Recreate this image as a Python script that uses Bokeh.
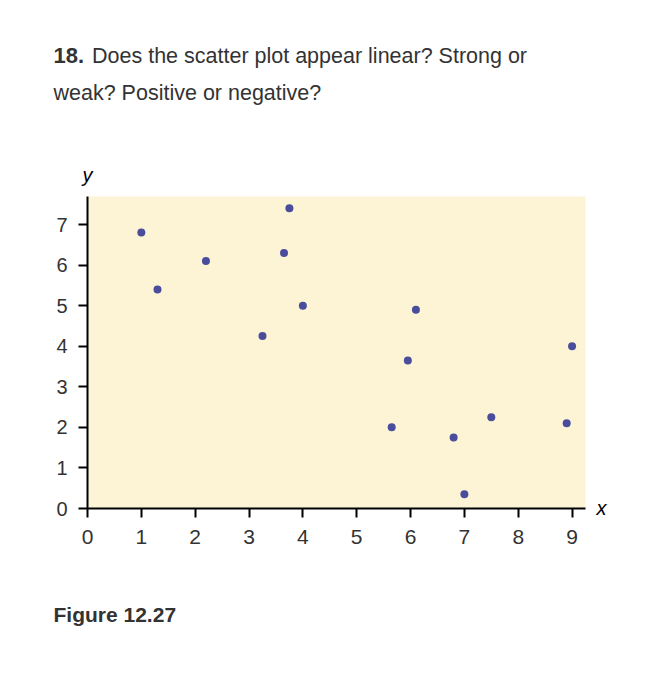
from bokeh.plotting import figure
from bokeh.models import FixedTicker, Label, Range1d
from bokeh.embed import file_html
from bokeh.resources import INLINE

# ---- data ----
x_vals = [1.0, 1.3, 2.2, 3.25, 3.65, 3.75, 4.0, 5.65, 5.95, 6.1, 6.8, 7.0, 7.5, 8.9, 9.0]
y_vals = [6.8, 5.4, 6.1, 4.25, 6.3, 7.4, 5.0, 2.0, 3.65, 4.9, 1.75, 0.35, 2.25, 2.1, 4.0]
x_ticks = [0, 1, 2, 3, 4, 5, 6, 7, 8, 9]
y_ticks = [0, 1, 2, 3, 4, 5, 6, 7]
x_extent = [0.0, 9.25]
y_extent = [0.0, 7.69]
title_num = "18."
title_line1 = "Does the scatter plot appear linear? Strong or"
title_line2 = "weak? Positive or negative?"
caption = "Figure 12.27"

# ---- layout (pixels) ----
W, H = 658, 692
OX, OY = 87, 508          # pixel position of data origin
SX, SY = 53.84, 40.57     # pixels per data unit

x_rng = Range1d(-OX / SX, (W - OX) / SX)
y_rng = Range1d((OY - H) / SY, OY / SY)

p = figure(width=W, height=H, output_backend="svg", toolbar_location=None,
           x_range=x_rng, y_range=y_rng, title=None, min_border=0)
p.background_fill_color = "white"
p.border_fill_color = "white"
p.outline_line_color = None
p.grid.visible = False

TXT = "#333333"
FONT = "Liberation Sans"

# cream plotting area
p.quad(left=[x_extent[0]], right=[x_extent[1]], bottom=[y_extent[0]], top=[y_extent[1]],
       fill_color="#fdf4d6", line_color=None)

for ax in (p.xaxis[0], p.yaxis[0]):
    ax.fixed_location = 0
    ax.axis_line_color = "black"
    ax.axis_line_width = 2
    ax.major_tick_line_color = "black"
    ax.major_tick_line_width = 2
    ax.major_tick_in = 0
    ax.major_tick_out = 9
    ax.minor_tick_line_color = None
    ax.major_label_text_font = FONT
    ax.major_label_text_color = TXT
    ax.major_label_orientation = "horizontal"
p.xaxis[0].ticker = FixedTicker(ticks=x_ticks)
p.yaxis[0].ticker = FixedTicker(ticks=y_ticks)
p.xaxis[0].bounds = (x_extent[0], x_extent[1])
p.yaxis[0].bounds = (y_extent[0], y_extent[1])
p.xaxis[0].major_label_text_font_size = "21px"
p.yaxis[0].major_label_text_font_size = "20px"
p.xaxis[0].major_label_standoff = 12
p.yaxis[0].major_label_standoff = 11

p.scatter(x_vals, y_vals, size=8, color="#4a4d9c", line_color=None)

DY = -8  # empirical baseline correction


def lab(text, x, y, size, style="normal", align="left", color=TXT):
    p.add_layout(Label(x=(x - OX) / SX, y=(OY - (y + DY)) / SY, text=text, text_font=FONT,
                       text_font_size=size, text_font_style=style,
                       text_color=color, text_align=align,
                       text_baseline="alphabetic"))


lab(title_num, 53, 63, "22px", "bold")
lab(title_line1, 91.5, 63, "21.5px")
lab(title_line2, 53, 100, "21.5px")
lab("y", 87, 182, "20px", "italic", "center", "black")
lab("x", 601, 515, "20px", "italic", "center", "black")
lab(caption, 53, 622, "21px", "bold")

open("out.html", "w").write(file_html(p, INLINE))
